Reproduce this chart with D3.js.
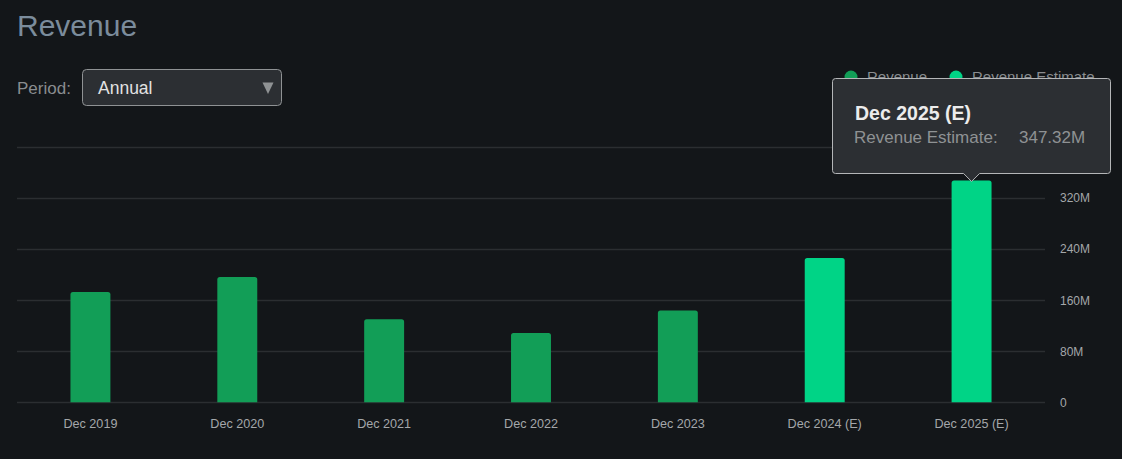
<!DOCTYPE html>
<html><head><meta charset="utf-8">
<script src="https://cdn.jsdelivr.net/npm/d3@7"></script>
<style>
html,body{margin:0;padding:0;background:#131619;}
body{width:1122px;height:459px;overflow:hidden;font-family:"Liberation Sans",Arial,sans-serif;}
</style></head>
<body>
<svg id="c" width="1122" height="459"></svg>
<script>
const categories = ["Dec 2019","Dec 2020","Dec 2021","Dec 2022","Dec 2023","Dec 2024 (E)","Dec 2025 (E)"];
const revenueValues = [173, 196.5, 130.2, 108.7, 143.7, null, null];
const estimateValues = [null, null, null, null, null, 226, 347.32];
const yTicks = [0, 80, 160, 240, 320, 400];
const yTickLabels = ["0","80M","160M","240M","320M",""];
const legendLabels = ["Revenue","Revenue Estimate"];
const colors = {Revenue:"#129e57", Estimate:"#00d486"};

const svg = d3.select("#c");
const plotLeft = 17, plotRight = 1045, plotTop = 147, plotBottom = 402.3;
const x = d3.scaleBand().domain(categories).range([plotLeft,plotRight]).paddingInner(0.728).paddingOuter(0.364);
const y = d3.scaleLinear().domain([0,400]).range([plotBottom, plotTop]);

// title
svg.append("text").attr("x",17).attr("y",36).text("Revenue")
  .attr("fill","#7b8c9c").attr("font-size",30).attr("font-family","Liberation Sans, Arial, sans-serif");

// Period control
svg.append("text").attr("x",17).attr("y",94).text("Period:").attr("fill","#8a8d90").attr("font-size",17);
svg.append("rect").attr("x",82.5).attr("y",69.5).attr("width",199).attr("height",36).attr("rx",4)
  .attr("fill","#2c2f33").attr("stroke","#8f9294");
svg.append("text").attr("x",98).attr("y",94).text("Annual").attr("fill","#e2e2e2").attr("font-size",17.5);
svg.append("path").attr("d","M262.5,82.5H273.5L268,94Z").attr("fill","#8f9294");

// gridlines
const gridG = svg.append("g");
gridG.selectAll("line").data(yTicks).join("line")
  .attr("x1",plotLeft).attr("x2",plotRight).attr("y1",d=>Math.round(y(d))+0.5).attr("y2",d=>Math.round(y(d))+0.5)
  .attr("stroke","#2b2e31").attr("stroke-width",1.3);

// y axis labels
const yAxis = d3.axisRight(y).tickValues(yTicks).tickSize(0).tickPadding(0)
  .tickFormat((d,i)=>yTickLabels[i]);
const yg = svg.append("g").attr("transform",`translate(1060,0)`).call(yAxis);
yg.select(".domain").remove();
yg.selectAll("text").attr("fill","#a4a7aa").attr("font-size",12).attr("font-family","Liberation Sans, Arial, sans-serif");

// x axis labels
const xAxis = d3.axisBottom(x).tickSize(0).tickPadding(0);
const xg = svg.append("g").attr("transform",`translate(0,419)`).call(xAxis);
xg.select(".domain").remove();
xg.selectAll("text").attr("fill","#a4a7aa").attr("font-size",12.6).attr("font-family","Liberation Sans, Arial, sans-serif");

// bars
function barPath(x0,y0,w,h,r){
  return `M${x0},${y0+h}V${y0+r}Q${x0},${y0} ${x0+r},${y0}H${x0+w-r}Q${x0+w},${y0} ${x0+w},${y0+r}V${y0+h}Z`;
}
const rows = categories.map((c,i)=>({c, rev:revenueValues[i], est:estimateValues[i]}));
svg.append("g").selectAll("path.rev").data(rows.filter(d=>d.rev!=null)).join("path")
  .attr("d",d=>barPath(x(d.c),y(d.rev),x.bandwidth(),y(0)-y(d.rev),2.5)).attr("fill",colors.Revenue);
svg.append("g").selectAll("path.est").data(rows.filter(d=>d.est!=null)).join("path")
  .attr("d",d=>barPath(x(d.c),y(d.est),x.bandwidth(),y(0)-y(d.est),2.5)).attr("fill",colors.Estimate);

// legend
const lg = svg.append("g");
const legX = [851, 956];
legendLabels.forEach((l,i)=>{
  lg.append("circle").attr("cx",legX[i]).attr("cy",77).attr("r",6.5).attr("fill",i===0?colors.Revenue:colors.Estimate);
  lg.append("text").attr("x",legX[i]+16).attr("y",82).text(l).attr("fill","#8a8d90").attr("font-size",15);
});

// tooltip
const hi = rows[6];
const cx = x(hi.c)+x.bandwidth()/2;
const tt = svg.append("g");
const tx=832.5, ty=78.5, tw=278, th=95;
tt.append("path")
  .attr("d",`M${tx+3},${ty}H${tx+tw-3}Q${tx+tw},${ty} ${tx+tw},${ty+3}V${ty+th-3}Q${tx+tw},${ty+th} ${tx+tw-3},${ty+th}H${cx+8}L${cx},${ty+th+8}L${cx-8},${ty+th}H${tx+3}Q${tx},${ty+th} ${tx},${ty+th-3}V${ty+3}Q${tx},${ty} ${tx+3},${ty}Z`)
  .attr("fill","#2c2f33").attr("stroke","#b4b6b8").attr("stroke-width",1);
tt.append("text").attr("x",855).attr("y",120).text(hi.c).attr("fill","#ececec").attr("font-size",19.5).attr("font-weight","bold");
tt.append("text").attr("x",854).attr("y",143).text(legendLabels[1]+":").attr("fill","#8f9294").attr("font-size",17);
tt.append("text").attr("x",1019).attr("y",143).text(d3.format(".2f")(hi.est)+"M").attr("fill","#8f9294").attr("font-size",17);
</script>
</body></html>
